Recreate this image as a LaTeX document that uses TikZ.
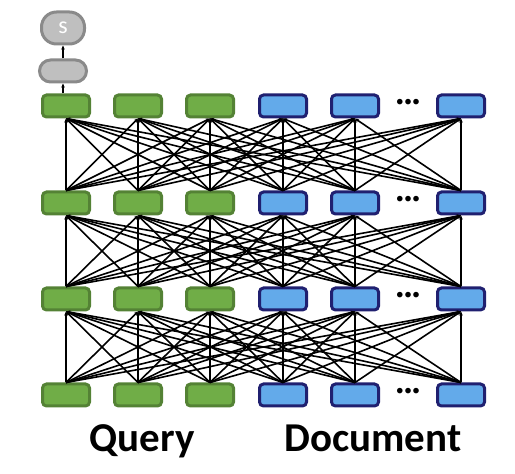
\documentclass[tikz,border=0pt]{standalone}
\usepackage{fontspec}
\setmainfont{Carlito}
\usetikzlibrary{arrows.meta,positioning}

\definecolor{qfill}{HTML}{70AD47}
\definecolor{qline}{HTML}{548235}
\definecolor{dfill}{HTML}{63AAEA}
\definecolor{dline}{HTML}{202070}
\definecolor{gfill}{HTML}{BFBFBF}
\definecolor{gline}{HTML}{8A8A8A}

\begin{document}
\begin{tikzpicture}[%
    x=1pt, y=1pt,
    >={Stealth[length=4pt,width=3.5pt]},
    node distance=72pt,
    unit/.style={line width=3pt, rounded corners=4pt,
      minimum width=47pt, minimum height=22pt, inner sep=0pt},
    qbox/.style={unit, draw=qline, fill=qfill},
    dbox/.style={unit, draw=dline, fill=dfill},
    gbox/.style={draw=gline, fill=gfill, line width=3pt, inner sep=0pt},
    link/.style={->, line width=1.6pt},
    dots/.style={font=\bfseries\fontsize{30}{30}\selectfont},
    label/.style={font=\bfseries\fontsize{41}{41}\selectfont, anchor=base},
  ]
    \useasboundingbox (0,0) rectangle (515,474);

    % four layers: query tokens left, document tokens right
    \foreach \r/\y in {1/79,2/175,3/271,4/368} {
      \node[qbox] (n\r1) at (66,\y) {};
      \node[qbox] (n\r2) [right of=n\r1] {};
      \node[qbox] (n\r3) [right of=n\r2] {};
      \node[dbox] (n\r4) [right of=n\r3, xshift=1pt] {};
      \node[dbox] (n\r5) [right of=n\r4] {};
      \node[dbox] (n\r6) [right of=n\r5, xshift=34pt] {};
      \node[dots] (dots\r) at (408,\y+1) {···};
    }

    % every unit feeds every unit of the next layer
    \foreach \r/\s in {1/2,2/3,3/4}
      \foreach \i in {1,...,6}
        \foreach \j in {1,...,6}
          \draw[link] (n\r\i.north) -- (n\s\j.south);

    \node[gbox, minimum width=47pt, minimum height=22pt, rounded corners=11pt]
      (pool) at (63,403) {};
    \node[gbox, minimum width=43pt, minimum height=32pt, rounded corners=15pt,
      text=white, font=\fontsize{24}{24}\selectfont] (score) at (63,446) {s};

    \draw[->, line width=2.4pt] (pool.south |- n41.north) -- (pool.south);
    \draw[->, line width=2.4pt] (pool.north) -- (score.south);

    \node[label] (query) at (142,22) {Query};
    \node[label] (doc)   at (373,22) {Document};
  \end{tikzpicture}
\end{document}
